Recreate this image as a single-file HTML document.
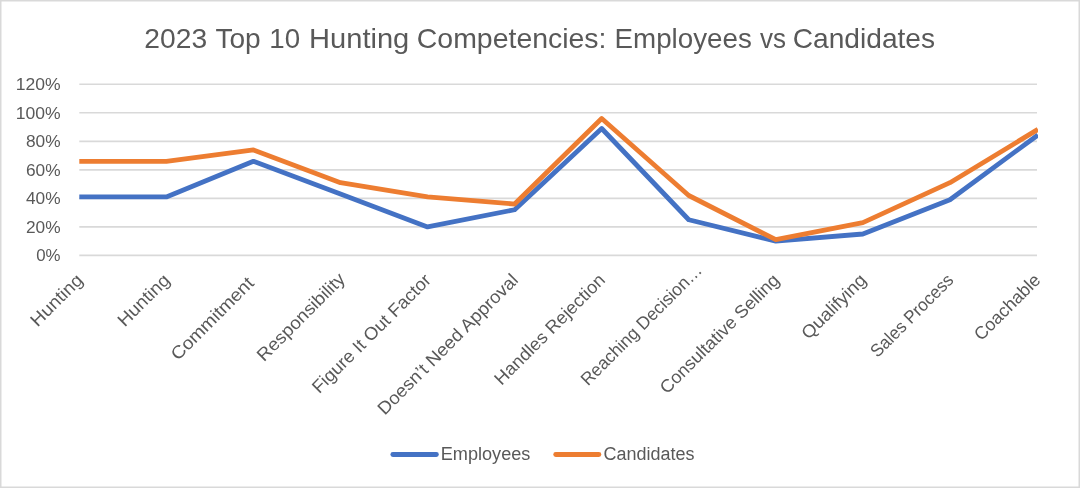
<!DOCTYPE html>
<html><head><meta charset="utf-8"><title>Chart</title>
<style>
html,body{margin:0;padding:0;background:#fff;overflow:hidden}
svg{display:block;will-change:transform}
text{font-family:"Liberation Sans",sans-serif;fill:#595959}
</style></head><body>
<svg width="1080" height="488" viewBox="0 0 1080 488">
<rect x="0.75" y="0.75" width="1078.5" height="486.5" fill="#fff" stroke="#D9D9D9" stroke-width="1.5"/>
<g stroke="#D9D9D9" stroke-width="1.6" fill="none">
<line x1="79.30" y1="255.40" x2="1037.00" y2="255.40"/>
<line x1="79.30" y1="226.88" x2="1037.00" y2="226.88"/>
<line x1="79.30" y1="198.37" x2="1037.00" y2="198.37"/>
<line x1="79.30" y1="169.85" x2="1037.00" y2="169.85"/>
<line x1="79.30" y1="141.33" x2="1037.00" y2="141.33"/>
<line x1="79.30" y1="112.82" x2="1037.00" y2="112.82"/>
<line x1="79.30" y1="84.30" x2="1037.00" y2="84.30"/>
</g>
<g font-size="17.40" text-anchor="end">
<text x="60.6" y="261.10" textLength="24.34" lengthAdjust="spacingAndGlyphs">0%</text>
<text x="60.6" y="232.58" textLength="34.60" lengthAdjust="spacingAndGlyphs">20%</text>
<text x="60.6" y="204.07" textLength="34.60" lengthAdjust="spacingAndGlyphs">40%</text>
<text x="60.6" y="175.55" textLength="34.60" lengthAdjust="spacingAndGlyphs">60%</text>
<text x="60.6" y="147.03" textLength="34.60" lengthAdjust="spacingAndGlyphs">80%</text>
<text x="60.6" y="118.52" textLength="44.87" lengthAdjust="spacingAndGlyphs">100%</text>
<text x="60.6" y="90.00" textLength="44.87" lengthAdjust="spacingAndGlyphs">120%</text>
</g>
<defs><clipPath id="pc"><rect x="79.0" y="60" width="959.0" height="220"/></clipPath></defs>
<polyline points="79.30,196.94 166.36,196.94 253.43,161.29 340.49,194.09 427.55,226.88 514.62,209.77 601.68,128.50 688.75,219.75 775.81,241.14 862.87,234.01 949.94,199.79 1037.90,134.97" fill="none" stroke="#4472C4" stroke-width="4.8" stroke-linejoin="round" stroke-linecap="butt" clip-path="url(#pc)"/>
<polyline points="79.30,161.29 166.36,161.29 253.43,149.89 340.49,182.68 427.55,196.94 514.62,204.07 601.68,118.52 688.75,195.51 775.81,239.72 862.87,222.61 949.94,182.68 1037.90,129.38" fill="none" stroke="#ED7D31" stroke-width="4.8" stroke-linejoin="round" stroke-linecap="butt" clip-path="url(#pc)"/>
<g font-size="17.90" text-anchor="end">
<text transform="translate(83.90,281.20) rotate(-45)" textLength="65.50" lengthAdjust="spacingAndGlyphs">Hunting</text>
<text transform="translate(170.96,281.20) rotate(-45)" textLength="65.50" lengthAdjust="spacingAndGlyphs">Hunting</text>
<text transform="translate(254.92,284.31) rotate(-45)" textLength="108.93" lengthAdjust="spacingAndGlyphs">Commitment</text>
<text transform="translate(346.15,280.14) rotate(-45)" textLength="116.04" lengthAdjust="spacingAndGlyphs">Responsibility</text>
<text transform="translate(432.15,281.20) rotate(-45)" textLength="159.80" lengthAdjust="spacingAndGlyphs">Figure It Out Factor</text>
<text transform="translate(519.22,281.20) rotate(-45)" textLength="190.27" lengthAdjust="spacingAndGlyphs">Doesn’t Need Approval</text>
<text transform="translate(606.28,281.20) rotate(-45)" textLength="148.12" lengthAdjust="spacingAndGlyphs">Handles Rejection</text>
<text transform="translate(703.17,271.37) rotate(-45)" textLength="162.98" lengthAdjust="spacingAndGlyphs">Reaching Decision…</text>
<text transform="translate(780.41,281.20) rotate(-45)" textLength="160.53" lengthAdjust="spacingAndGlyphs">Consultative Selling</text>
<text transform="translate(867.47,281.20) rotate(-45)" textLength="83.42" lengthAdjust="spacingAndGlyphs">Qualifying</text>
<text transform="translate(954.54,281.20) rotate(-45)" textLength="108.90" lengthAdjust="spacingAndGlyphs">Sales Process</text>
<text transform="translate(1041.60,281.20) rotate(-45)" textLength="85.44" lengthAdjust="spacingAndGlyphs">Coachable</text>
</g>
<g font-size="28.50">
<text x="144.30" y="47.8" textLength="62.80" lengthAdjust="spacingAndGlyphs">2023</text>
<text x="215.40" y="47.8" textLength="45.30" lengthAdjust="spacingAndGlyphs">Top</text>
<text x="269.30" y="47.8" textLength="30.80" lengthAdjust="spacingAndGlyphs">10</text>
<text x="309.10" y="47.8" textLength="100.20" lengthAdjust="spacingAndGlyphs">Hunting</text>
<text x="416.80" y="47.8" textLength="189.70" lengthAdjust="spacingAndGlyphs">Competencies:</text>
<text x="614.60" y="47.8" textLength="137.20" lengthAdjust="spacingAndGlyphs">Employees</text>
<text x="759.90" y="47.8" textLength="26.00" lengthAdjust="spacingAndGlyphs">vs</text>
<text x="792.70" y="47.8" textLength="142.40" lengthAdjust="spacingAndGlyphs">Candidates</text>
</g>
<g stroke-width="4.8" stroke-linecap="round" fill="none">
<line x1="392.8" y1="454.5" x2="436.4" y2="454.5" stroke="#4472C4"/>
<line x1="555.7" y1="454.5" x2="598.9" y2="454.5" stroke="#ED7D31"/>
</g>
<g font-size="17.60">
<text x="440.7" y="460.3" textLength="89.70" lengthAdjust="spacingAndGlyphs">Employees</text>
<text x="603.6" y="460.3" textLength="91.00" lengthAdjust="spacingAndGlyphs">Candidates</text>
</g>
</svg></body></html>
